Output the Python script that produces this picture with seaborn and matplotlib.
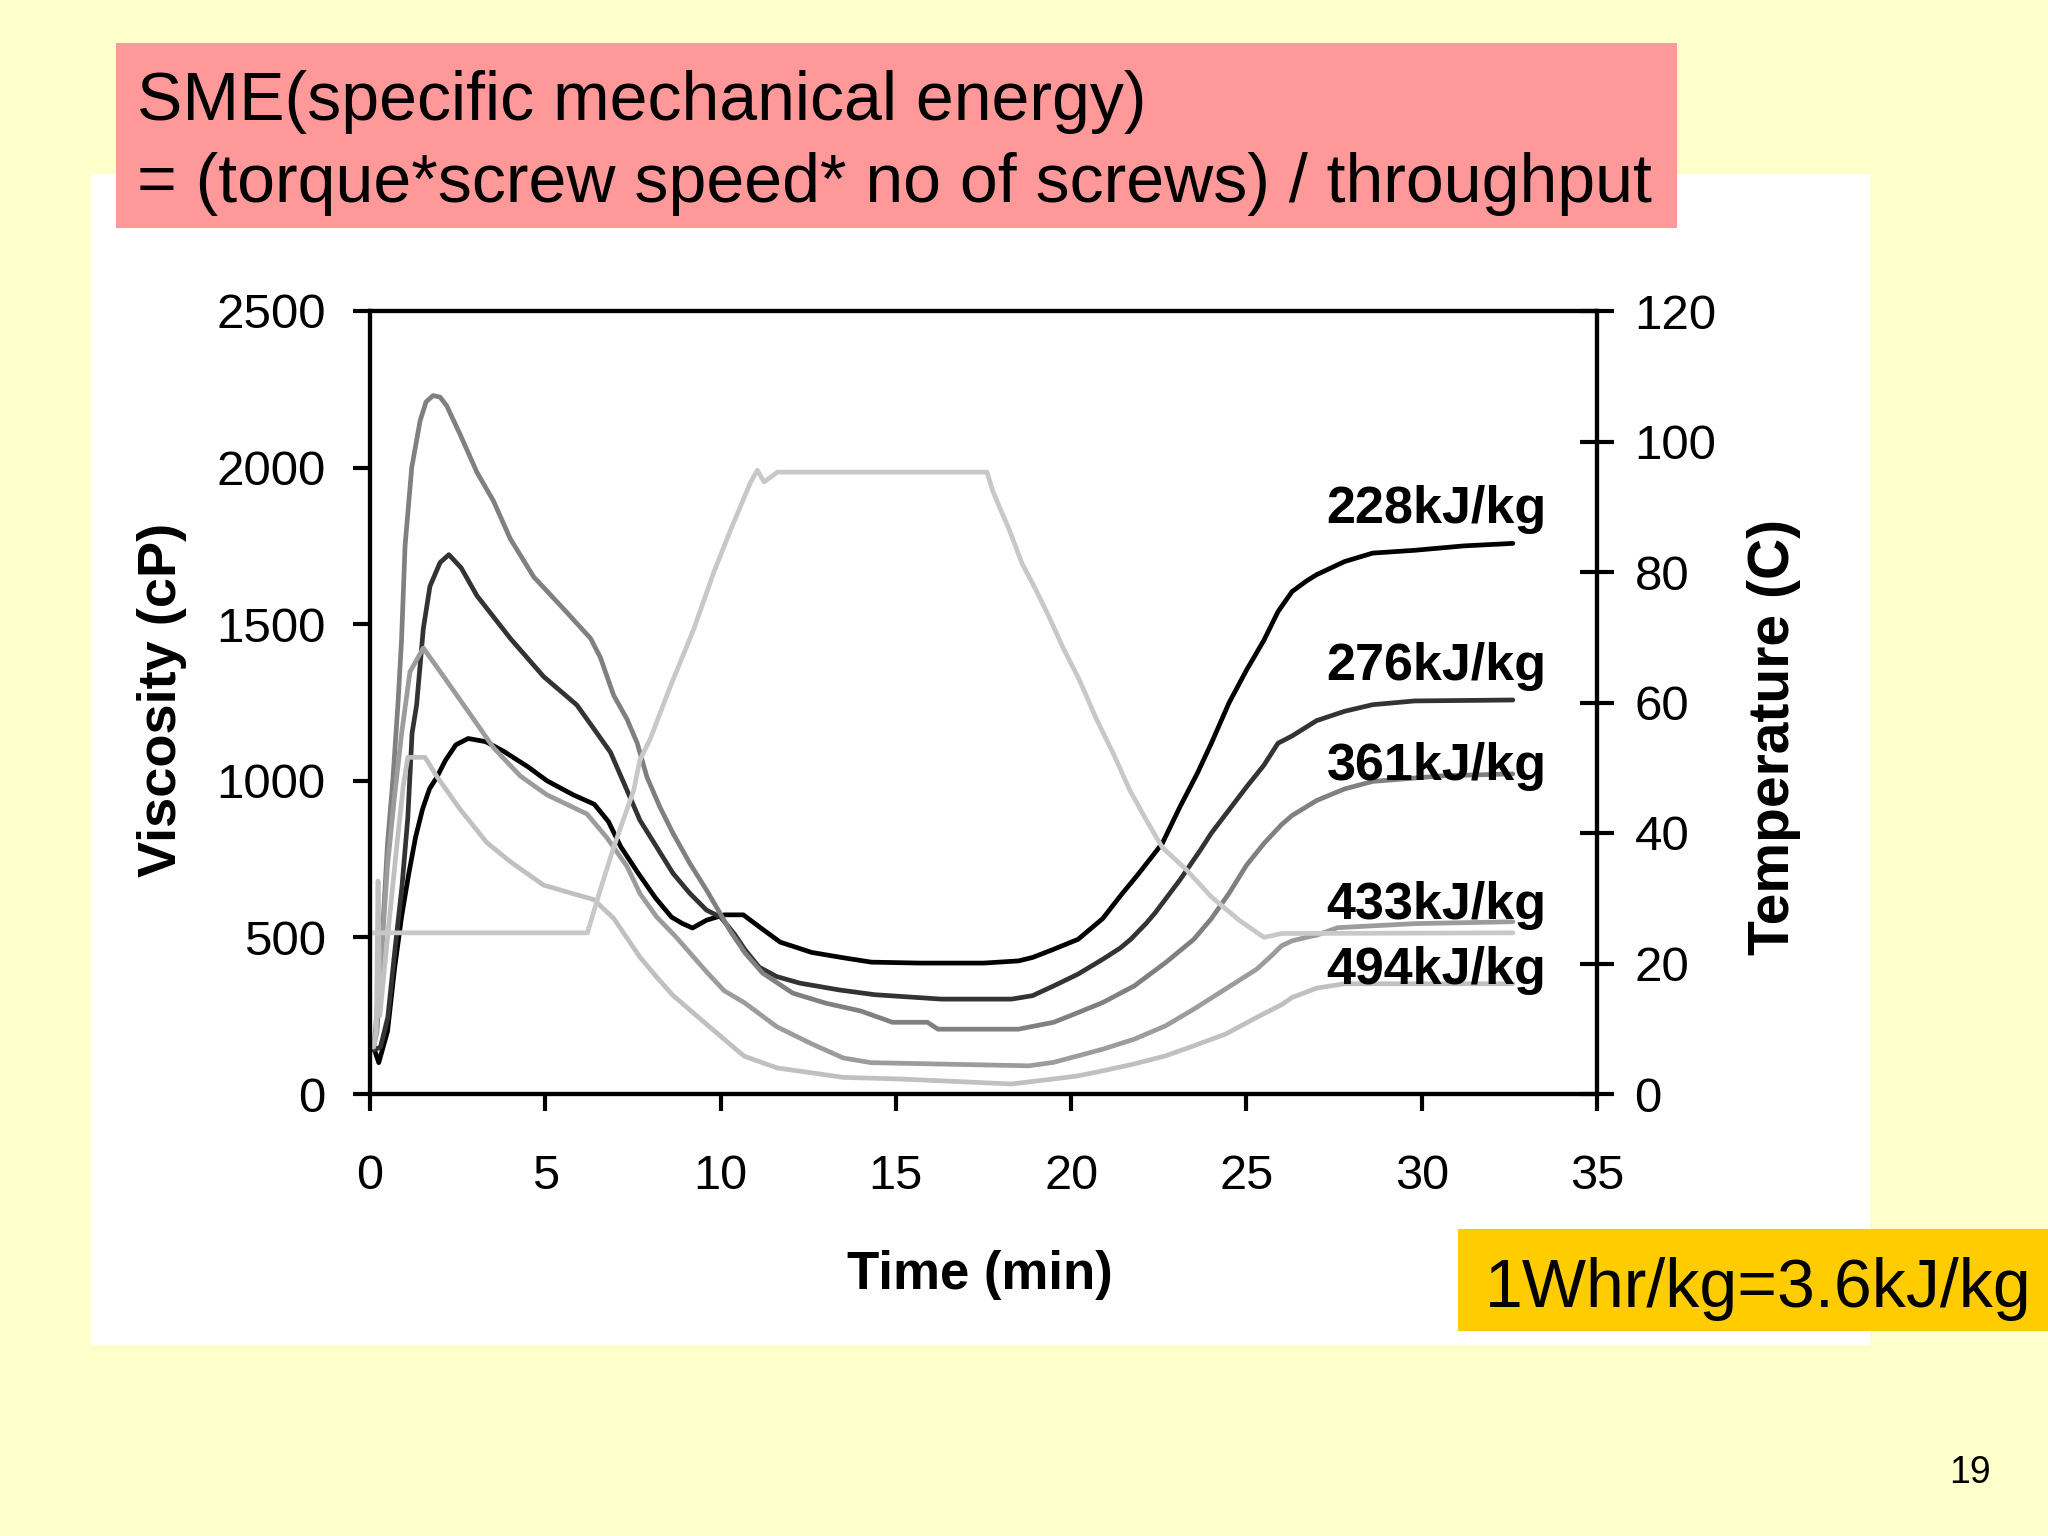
import matplotlib
matplotlib.use("Agg")
import matplotlib.pyplot as plt
import seaborn as sns
import pandas as pd
from matplotlib.patches import Rectangle

# viscosity curves (time in min, viscosity in cP)
t_228 = [0.1, 0.25, 0.5, 0.7, 0.9, 1.1, 1.3, 1.5, 1.7, 1.9, 2.15, 2.45, 2.8, 3.3, 3.8, 4.5, 5.05, 5.8, 6.4,
         6.8, 7.15, 7.65, 8.15, 8.6, 8.9, 9.2, 9.6, 10.1, 10.65, 11.15, 11.7, 12.6, 13.5, 14.3, 15.7, 17.5,
         18.5, 18.9, 19.5, 20.2, 20.9, 21.4, 21.9, 22.6, 23.1, 23.6, 24.0, 24.5, 25.0, 25.5, 25.9, 26.3,
         26.7, 27.0, 27.8, 28.6, 29.8, 31.2, 32.6]
v_228 = [150, 100, 200, 400, 565, 700, 820, 910, 975, 1010, 1065, 1115, 1135, 1125, 1095, 1045, 1000, 955, 925,
         870, 790, 705, 625, 565, 545, 530, 555, 572, 572, 530, 485, 452, 435, 421, 418, 418,
         425, 436, 462, 494, 560, 632, 700, 800, 916, 1024, 1120, 1248, 1353, 1449, 1540, 1604,
         1637, 1658, 1700, 1727, 1736, 1750, 1758]

t_276 = [0.1, 0.3, 0.51, 0.71, 0.91, 1.08, 1.2, 1.33, 1.52, 1.71, 2.0, 2.25, 2.6, 3.05, 4.0, 4.95, 5.9, 6.38,
         6.86, 7.33, 7.7, 8.18, 8.64, 9.12, 9.6, 10.0, 10.4, 10.7, 11.1, 11.6, 12.26, 13.4, 14.4, 16.3, 18.3,
         18.9, 19.5, 20.2, 20.9, 21.4, 21.7, 22.15, 22.4, 23.1, 23.7, 24.0, 25.0, 25.5, 25.9, 26.3, 27.0,
         27.8, 28.6, 29.8, 32.6]
v_276 = [140, 150, 246, 459, 660, 884, 1152, 1242, 1485, 1621, 1697, 1722, 1680, 1591, 1455, 1333, 1242, 1167,
         1091, 970, 874, 788, 705, 641, 587, 565, 510, 460, 405, 375, 354, 332, 317, 303, 303,
         314, 345, 383, 430, 466, 494, 546, 579, 683, 781, 833, 980, 1050, 1120, 1143, 1192,
         1222, 1243, 1255, 1258]

t_361 = [0.1, 0.2, 0.35, 0.5, 0.65, 0.8, 0.9, 1.0, 1.19, 1.43, 1.6, 1.8, 2.0, 2.19, 2.57, 3.05, 3.52, 4.0,
         4.67, 5.43, 6.29, 6.57, 6.95, 7.33, 7.62, 7.9, 8.27, 8.64, 9.12, 9.6, 9.98, 10.26, 10.7, 11.2,
         12.06, 13.0, 14.0, 14.9, 15.9, 16.2, 18.5, 19.5, 20.2, 20.9, 21.8, 22.7, 23.5, 24.0, 24.5, 25.0,
         25.5, 26.0, 26.3, 27.0, 27.8, 28.6, 30.6, 32.6]
v_361 = [150, 200, 500, 800, 1000, 1250, 1450, 1750, 2000, 2150, 2210, 2230, 2225, 2197, 2106, 1985, 1894, 1773,
         1651, 1560, 1455, 1394, 1273, 1197, 1121, 1012, 916, 833, 737, 651, 578, 523, 450, 386,
         322, 290, 265, 229, 229, 207, 207, 229, 260, 292, 345, 420, 494, 560, 640, 730,
         800, 860, 889, 937, 974, 998, 1016, 1022]

t_433 = [0.1, 0.15, 0.33, 0.5, 0.7, 0.9, 1.14, 1.52, 2.1, 2.86, 3.52, 4.29, 5.05, 6.19, 6.76, 7.33, 7.7, 8.18,
         8.7, 9.6, 10.1, 10.7, 11.6, 12.6, 13.5, 14.3, 18.8, 19.5, 20.2, 20.9, 21.8, 22.7, 23.5, 24.4,
         25.3, 25.7, 26.0, 26.3, 26.7, 27.0, 27.6, 29.8, 32.6]
v_433 = [150, 200, 450, 730, 950, 1150, 1348, 1424, 1333, 1212, 1106, 1015, 955, 894, 818, 727, 640, 565,
         505, 390, 330, 290, 215, 160, 115, 100, 90, 101, 122, 143, 175, 218, 271, 335,
         399, 440, 473, 489, 500, 507, 531, 544, 550]

t_494 = [0.1, 0.18, 0.23, 0.28, 0.5, 0.76, 0.95, 1.08, 1.57, 1.9, 2.57, 3.33, 4.0, 4.95, 5.9, 6.38, 6.95,
         7.7, 8.18, 8.64, 9.71, 10.67, 11.62, 12.57, 13.5, 15.1, 18.3, 19.5, 20.2, 20.9, 21.8, 22.7, 23.5,
         24.4, 25.3, 26.0, 26.3, 26.7, 27.0, 27.8, 32.6]
v_494 = [150, 200, 680, 250, 500, 788, 985, 1075, 1075, 1015, 909, 803, 742, 667, 636, 621, 561,
         437, 373, 315, 212, 121, 83, 68, 53, 48, 32, 48, 58, 74, 96, 122, 154,
         191, 245, 285, 308, 325, 338, 352, 352]

# temperature profile (C), right axis
t_temp = [0, 6.2, 6.57, 6.95, 7.52, 7.7, 8.0, 8.57, 9.24, 9.81, 10.29, 10.86, 11.05, 11.24, 11.62, 17.6,
          17.76, 17.96, 18.24, 18.6, 19.0, 19.38, 19.76, 20.24, 20.7, 21.2, 21.67, 22.1, 22.6, 23.3, 24.0,
          24.8, 25.5, 26.0, 32.6]
v_temp = [24.7, 24.7, 31.3, 37.8, 46.5, 51.2, 54.5, 62.5, 71.3, 80, 86.5, 93.8, 95.6, 93.8, 95.3, 95.3,
          92.5, 89.9, 86.4, 81.3, 77.2, 73, 68.5, 63.4, 57.7, 52.2, 46.6, 42.4, 37.8, 34.3, 30.2,
          26.6, 24.0, 24.6, 24.7]

sme_labels = ["228kJ/kg", "276kJ/kg", "361kJ/kg", "433kJ/kg", "494kJ/kg"]
label_y = [1822, 1321, 1002, 558, 351]

sns.set_style("white")
plt.rcParams["font.family"] = ["Liberation Sans", "DejaVu Sans"]
plt.rcParams["text.color"] = "black"
plt.rcParams["axes.labelcolor"] = "black"
plt.rcParams["xtick.color"] = "black"
plt.rcParams["ytick.color"] = "black"

fig = plt.figure(figsize=(20.48, 15.36), dpi=100, facecolor="#FFFFCC")

# slide decorations
fig.patches.append(Rectangle((91/2048, 1-1345/1536), (1870-91)/2048, (1345-174)/1536,
                             transform=fig.transFigure, facecolor="white", edgecolor="none", zorder=-3))
fig.patches.append(Rectangle((116/2048, 1-228/1536), (1677-116)/2048, (228-43)/1536,
                             transform=fig.transFigure, facecolor="#FF9999", edgecolor="none", zorder=-2))
fig.patches.append(Rectangle((1458/2048, 1-1331/1536), (2048-1458)/2048, (1331-1229)/1536,
                             transform=fig.transFigure, facecolor="#FFCC00", edgecolor="none", zorder=-2))
fig.text(137/2048, 1-120/1536, "SME(specific mechanical energy)", fontsize=49, va="baseline", ha="left")
fig.text(137/2048, 1-202/1536, "= (torque*screw speed* no of screws) / throughput", fontsize=49,
         va="baseline", ha="left")
fig.text(1485/2048, 1-1307/1536, "1Whr/kg=3.6kJ/kg", fontsize=49, va="baseline", ha="left")
fig.text(1991/2048, 1-1483/1536, "19", fontsize=27, va="baseline", ha="right")

ax = fig.add_axes([370/2048, 1-1094/1536, (1597-370)/2048, (1094-311)/1536])
ax.set_facecolor("white")

curves = [(t_228, v_228, "#000000"), (t_276, v_276, "#333333"), (t_361, v_361, "#808080"),
          (t_433, v_433, "#9c9c9c"), (t_494, v_494, "#c0c0c0")]
for t, v, c in curves:
    d = pd.DataFrame({"t": t, "v": v})
    sns.lineplot(data=d, x="t", y="v", color=c, lw=3.4, estimator=None, sort=False, ax=ax)

for lab, yy in zip(sme_labels, label_y):
    ax.text(27.28, yy, lab, fontsize=37.5, fontweight="bold", va="baseline", ha="left")

ax.set_xlim(0, 35)
ax.set_ylim(0, 2500)
ax.set_xticks(range(0, 36, 5))
ax.set_yticks(range(0, 2501, 500))
ax.set_xlabel("Time (min)", fontsize=38, fontweight="bold")
ax.set_ylabel("Viscosity (cP)", fontsize=39, fontweight="bold")
ax.xaxis.set_label_coords(0.497, -0.199)
ax.yaxis.set_label_coords(-0.149, 0.503)
ax.tick_params(axis="x", direction="out", length=12, width=3, labelsize=35, pad=31, bottom=True)
ax.tick_params(axis="y", direction="out", length=12, width=3, labelsize=35.5, pad=20, left=True)
for s in ax.spines.values():
    s.set_linewidth(3)
    s.set_color("black")

ax2 = ax.twinx()
dt = pd.DataFrame({"t": t_temp, "T": v_temp})
sns.lineplot(data=dt, x="t", y="T", color="#c8c8c8", lw=3.4, estimator=None, sort=False, ax=ax2)
ax2.set_ylim(0, 120)
ax2.set_yticks(range(0, 121, 20))
ax2.set_ylabel("Temperature (C)", fontsize=41, fontweight="bold")
ax2.yaxis.set_label_coords(1.122, 0.456)
ax2.tick_params(axis="y", direction="inout", length=24, width=3, labelsize=35.5, pad=15, right=True)
for s in ax2.spines.values():
    s.set_linewidth(3)
    s.set_color("black")
ax2.set_xlim(0, 35)

fig.savefig("out.png", dpi=100, facecolor=fig.get_facecolor())
